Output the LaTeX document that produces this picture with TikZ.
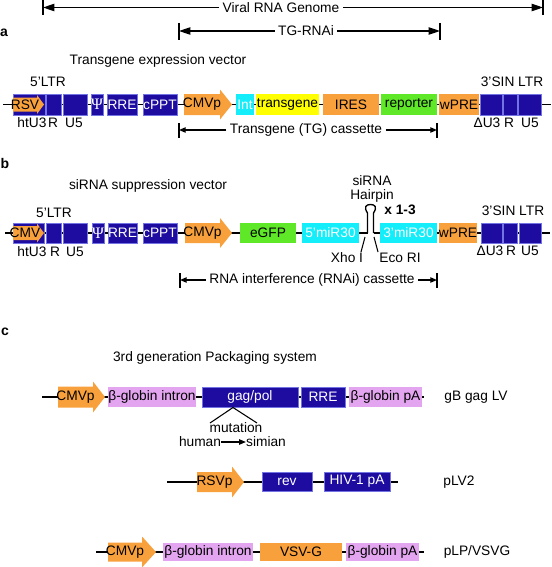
\documentclass[tikz,border=0pt]{standalone}
\usepackage{fontspec}
\setmainfont{Liberation Sans}
\newfontfamily\psifont{Liberation Serif}
\usetikzlibrary{arrows.meta}
\definecolor{vblue}{RGB}{30,12,160}
\definecolor{vedge}{RGB}{115,115,228}
\definecolor{vorange}{RGB}{248,160,60}
\definecolor{vcyan}{RGB}{20,238,250}
\definecolor{vyellow}{RGB}{255,255,0}
\definecolor{vgreen}{RGB}{95,232,40}
\definecolor{vpink}{RGB}{228,165,240}
% box: style, name, x1, x2, ytop, ybot, text
\newcommand\bx[7]{\node[#1, minimum width={(#4-#3)*0.75pt}, minimum height={(#6-#5)*0.75pt}] (#2) at ({(#3+#4)/2},{(#5+#6)/2}) {#7};}
% promoter arrow: name, x1, xbody, xtip, y, body half height, tip half height, text
\newcommand\prom[8]{\fill[vorange] (#2,#5-#6) -- (#3,#5-#6) -- (#3,#5-#7) -- (#4,#5) -- (#3,#5+#7) -- (#3,#5+#6) -- (#2,#5+#6) -- cycle;
\node[txt] (#1) at ({(#2+#3)/2},#5) {#8};}
\newcommand\psisym{{\psifont\fontsize{12}{12}\selectfont Ψ}}
\begin{document}
\begin{tikzpicture}[x=0.75pt,y=-0.75pt,
  font=\fontsize{10.3}{12}\selectfont,
  txt/.style={inner sep=0pt},
  lab/.style={inner xsep=2.5pt, inner ysep=0pt},
  bb/.style={rectangle, fill=vblue, draw=vedge, line width=0.6pt, text=white, inner sep=0pt},
  ob/.style={rectangle, fill=vorange, inner sep=0pt},
  cb/.style={rectangle, fill=vcyan, text=white, inner sep=0pt},
  yb/.style={rectangle, fill=vyellow, inner sep=0pt},
  gb/.style={rectangle, fill=vgreen, inner sep=0pt},
  pb/.style={rectangle, fill=vpink, inner sep=0pt},
  bone/.style={line width=1.4pt},
  dim/.style={line width=0.9pt},
  bigtip/.style={-{Triangle[length=8.5pt,width=5.5pt]}},
  smalltip/.style={-{Triangle[length=5pt,width=4pt]}},
  panel/.style={inner sep=0pt, font=\fontsize{10.5}{12}\selectfont\bfseries}
]
\useasboundingbox (0,0) rectangle (552,567);

% ---------- top dimension lines ----------
\node[lab] (vrg) at (281,7.5) {Viral RNA Genome};
\coordinate (vL) at (43,7.5); \coordinate (vR) at (543,7.5);
\draw[dim] (43,0.5) -- (43,15); \draw[dim] (543,0.5) -- (543,15);
\draw[dim,bigtip] (vrg.west) -- (vL);
\draw[dim,bigtip] (vrg.east) -- (vR);

\node[lab] (tgr) at (306,31) {TG-RNAi};
\coordinate (tL) at (179,31); \coordinate (tR) at (440,31);
\draw[dim] (179,23) -- (179,40); \draw[dim] (440,23) -- (440,40);
\draw[dim,bigtip] (tgr.west) -- (tL);
\draw[dim,bigtip] (tgr.east) -- (tR);

% ---------- panel a ----------
\node[panel] (pa) at (4,33) {a};
\node[txt] (ta) at (158,61) {Transgene expression vector};
\node[txt] (l5a) at (48,82) {5'LTR};
\node[txt] (l3a) at (512,82) {3'SIN LTR};

\coordinate (aS) at (3,104.5); \coordinate (aE) at (551,104.5);
\draw[bone] (aS) -- (aE);
\bx{bb}{a1}{13}{45}{94}{115}{}
\prom{arsv}{13}{37}{44}{104.5}{7}{9.5}{RSV}
\bx{bb}{a2}{46}{61}{94}{115}{}
\bx{bb}{a3}{63}{87}{94}{115}{}
\bx{bb}{apsi}{91}{103}{94}{115}{\psisym}
\bx{bb}{arre}{107}{137}{94}{115}{RRE}
\bx{bb}{acppt}{143}{177}{94}{115}{cPPT}
\prom{acmv}{184}{220}{232}{104.5}{10.5}{15}{CMVp}
\bx{cb}{aint}{236}{254}{94}{115}{Int}
\bx{yb}{atg}{256}{319}{94}{115}{transgene}
\bx{ob}{aires}{323}{379}{94}{115}{IRES}
\bx{gb}{arep}{381}{437}{94}{115}{reporter}
\bx{ob}{awpre}{439}{479}{94}{115}{wPRE}
\bx{bb}{a4}{480}{502}{94}{115}{}
\bx{bb}{a5}{503}{517}{94}{115}{}
\bx{bb}{a6}{518}{541}{94}{115}{}

\node[txt] (ua1) at (32,123) {htU3};
\node[txt] (ua2) at (53,123) {R};
\node[txt] (ua3) at (74,123) {U5};
\node[txt] (ua4) at (487,123) {ΔU3};
\node[txt] (ua5) at (509,123) {R};
\node[txt] (ua6) at (530,123) {U5};

\node[lab] (tgc) at (306,130) {Transgene (TG) cassette};
\coordinate (cL) at (179,130); \coordinate (cR) at (437,130);
\draw[dim] (179,123) -- (179,138); \draw[dim] (437,123) -- (437,138);
\draw[dim,smalltip] (tgc.west) -- (cL);
\draw[dim,smalltip] (tgc.east) -- (cR);

% ---------- panel b ----------
\node[panel] (pb) at (5,163) {b};
\node[txt] (tb) at (148,186) {siRNA suppression vector};
\node[txt] (sirna) at (372,181) {siRNA};
\node[txt] (hairp) at (372,196) {Hairpin};
\node[txt, font=\fontsize{10.3}{12}\selectfont\bfseries] (x13) at (400,210) {x 1-3};
\node[txt] (l5b) at (54,213) {5'LTR};
\node[txt] (l3b) at (513,211) {3'SIN LTR};

\coordinate (bS) at (5,233); \coordinate (hpL) at (367.5,233);
\coordinate (hpR) at (373.5,233); \coordinate (bE) at (550,233);
\draw[bone] (bS) -- (hpL);
\draw[bone] (hpR) -- (bE);
\draw[line width=1pt] (hpL) -- (367.5,213) .. controls (363.5,207) and (366,204.5) .. (370.5,204.5)
   .. controls (375,204.5) and (377.5,207) .. (373.5,213) -- (hpR);
\bx{bb}{b1}{13}{44}{223}{243}{}
\prom{bcmv0}{13}{37}{44}{233}{7}{9.5}{CMV}
\bx{bb}{b2}{46}{61}{223}{243}{}
\bx{bb}{b3}{63}{87}{223}{243}{}
\bx{bb}{bpsi}{92}{104}{223}{243}{\psisym}
\bx{bb}{brre}{108}{137}{223}{243}{RRE}
\bx{bb}{bcppt}{143}{177}{223}{243}{cPPT}
\prom{bcmv}{185}{220}{232}{233}{10}{15}{CMVp}
\bx{gb}{begfp}{240}{296}{223}{243}{eGFP}
\bx{cb}{bmir5}{302}{359}{223}{243}{5'miR30}
\bx{cb}{bmir3}{380}{437}{223}{243}{3'miR30}
\bx{ob}{bwpre}{439}{477}{223}{243}{wPRE}
\bx{bb}{b4}{481}{502}{223}{243}{}
\bx{bb}{b5}{503}{517}{223}{243}{}
\bx{bb}{b6}{519}{541}{223}{243}{}

\node[txt] (xho) at (347,258) {Xho I};
\node[txt] (eco) at (400,258) {Eco RI};
\coordinate (xhoT) at (365,237); \coordinate (ecoT) at (374,237);
\draw[line width=0.8pt] (xhoT) -- (361,252);
\draw[line width=0.8pt] (ecoT) -- (378,252);

\node[txt] (ub1) at (32,252) {htU3};
\node[txt] (ub2) at (55,252) {R};
\node[txt] (ub3) at (75,252) {U5};
\node[txt] (ub4) at (490,251) {ΔU3};
\node[txt] (ub5) at (511,251) {R};
\node[txt] (ub6) at (530,251) {U5};

\node[lab] (rnai) at (312,280) {RNA interference (RNAi) cassette};
\coordinate (rL) at (180,280); \coordinate (rR) at (437,280);
\draw[dim] (180,273) -- (180,288); \draw[dim] (437,273) -- (437,288);
\draw[dim,smalltip] (rnai.west) -- (rL);
\draw[dim,smalltip] (rnai.east) -- (rR);

% ---------- panel c ----------
\node[panel] (pc) at (5,332) {c};
\node[txt] (tc) at (215,358) {3rd generation Packaging system};

% gB gag LV
\coordinate (gS) at (42,397); \coordinate (gE) at (424,397);
\draw[bone] (gS) -- (gE);
\prom{gcmv}{58}{93}{105}{397}{10.5}{15.5}{CMVp}
\bx{pb}{gint}{108}{196}{387}{407}{β-globin intron}
\bx{bb}{ggag}{202}{298}{387}{407}{gag/pol}
\bx{bb}{grre}{301}{345}{387}{407}{RRE}
\bx{pb}{gpa}{349}{422}{387}{407}{β-globin pA}
\node[txt] (gname) at (476,397) {gB gag LV};
\node[txt] (mut) at (236,428) {mutation};
\coordinate (mL) at (210,423); \coordinate (mR) at (257,423);
\draw[line width=0.8pt] (mL) -- (233,407.5) -- (mR);
\node[txt] (hum) at (200,442) {human};
\node[txt] (sim) at (266,442) {simian};
\draw[line width=0.8pt,smalltip] (hum.east) -- (sim.west);

% pLV2
\coordinate (lS) at (167,482); \coordinate (lE) at (398,482);
\draw[bone] (lS) -- (lE);
\prom{lrsv}{197}{232}{244}{482}{10}{15.5}{RSVp}
\bx{bb}{lrev}{262}{312}{472}{491}{rev}
\bx{bb}{lpa}{324}{390}{472}{491}{HIV-1 pA}
\node[txt] (lname) at (459,482) {pLV2};

% pLP/VSVG
\coordinate (vS) at (96,552); \coordinate (vE) at (424,552);
\draw[bone] (vS) -- (vE);
\prom{vcmv}{108}{142}{156}{552}{9.5}{15.5}{CMVp}
\bx{pb}{vint}{163}{253}{543}{561}{β-globin intron}
\bx{ob}{vvsv}{260}{342}{543}{561}{VSV-G}
\bx{pb}{vpa}{346}{419}{543}{561}{β-globin pA}
\node[txt] (vname) at (477,552) {pLP/VSVG};
\end{tikzpicture}
\end{document}
